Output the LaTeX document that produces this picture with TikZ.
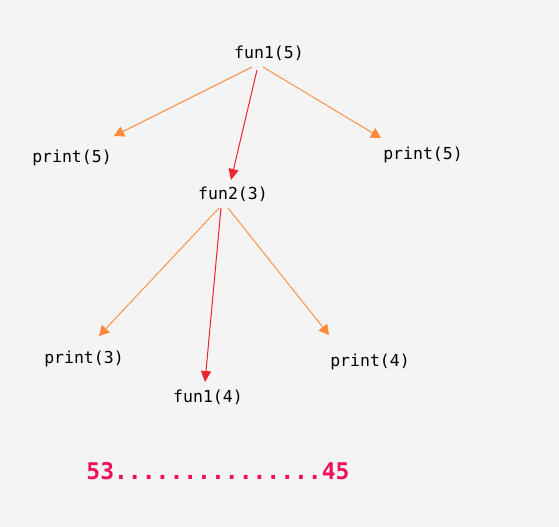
\documentclass[tikz,border=0pt]{standalone}
\usepackage{fontspec}
\setmonofont{DejaVu Sans Mono}
\usetikzlibrary{arrows.meta,calc}
\definecolor{bg}{HTML}{F4F4F4}
\definecolor{orangeline}{HTML}{FF8A3A}
\definecolor{redline}{HTML}{EE2230}
\definecolor{pinktext}{HTML}{F0105A}
\tikzset{
  call/.style={inner sep=0pt, font=\ttfamily\fontsize{16.5bp}{19bp}\selectfont, text=black},
  side/.style={draw=orangeline, line width=0.9bp, -{Triangle[length=10bp,width=11bp]}},
  rec/.style={draw=redline, line width=1bp, -{Triangle[length=11bp,width=10bp]}},
}
\begin{document}
\begin{tikzpicture}[x=1bp,y=-1bp]
\fill[bg] (0,0) rectangle (559,527);
\useasboundingbox (0,0) rectangle (559,527);
\node[call] (f1) at (269,53) {fun1(5)};
\node[call] (p5l) at (72,158) {print(5)};
\node[call] (p5r) at (423,155) {print(5)};
\node[call] (f2) at (233,194) {fun2(3)};
\node[call] (p3) at (84,359) {print(3)};
\node[call] (f14) at (208,397) {fun1(4)};
\node[call] (p4) at (370,362) {print(4)};
\node[inner sep=0pt, font=\ttfamily\bfseries\fontsize{23bp}{26bp}\selectfont, text=pinktext] (out) at (218,471) {53...............45};
\draw[side] ($(f1)+(-17,14)$) -- ($(p5l)+(42,-22)$);
\draw[rec] ($(f1)+(-12,17)$) -- ($(f2)+(-2,-14)$);
\draw[side] ($(f1)+(-6,14)$) -- ($(p5r)+(-42,-17)$);
\draw[side] ($(f2)+(-14,14)$) -- ($(p3)+(15,-23)$);
\draw[rec] ($(f2)+(-12,14)$) -- ($(f14)+(-3,-15)$);
\draw[side] ($(f2)+(-5,14)$) -- ($(p4)+(-41,-27)$);
\end{tikzpicture}
\end{document}
